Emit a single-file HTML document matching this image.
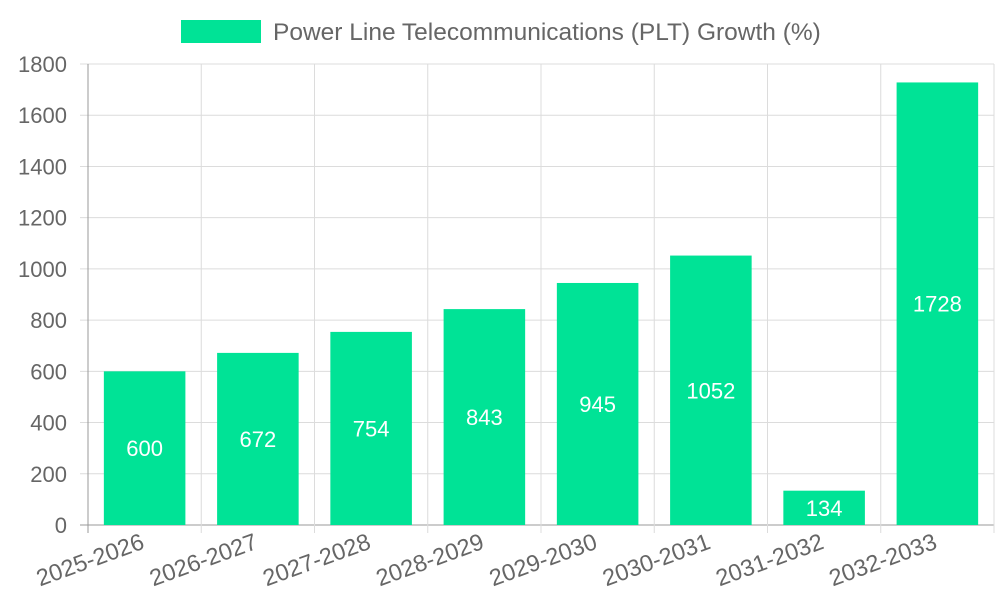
<!DOCTYPE html>
<html><head><meta charset="utf-8"><style>
body{margin:0;background:#fff;}
svg{font-family:"Liberation Sans",sans-serif;}
</style></head><body>
<svg id="chart" width="1000" height="600">
<g id="legend">
<rect x="181" y="20" width="80" height="23" fill="#00e396"></rect>
<text x="273" y="40" font-size="24.5" fill="#666">Power Line Telecommunications (PLT) Growth (%)</text>
</g>
<g id="grid"></g><g id="bars"></g><g id="axes"></g>
</svg>
<script>
const categories=["2025-2026","2026-2027","2027-2028","2028-2029","2029-2030","2030-2031","2031-2032","2032-2033"];
const values=[600,672,754,843,945,1052,134,1728];
const yTicks=[0,200,400,600,800,1000,1200,1400,1600,1800];
const NS="http://www.w3.org/2000/svg";
const L=88,R=994,T=64,B=525,yMax=1800;
const band=(R-L)/categories.length;
const y=v=>B-(v/yMax)*(B-T);
const xc=i=>L+band*(i+0.5);
function mk(tag,attrs,parent,text){const e=document.createElementNS(NS,tag);for(const k in attrs)e.setAttribute(k,attrs[k]);if(text!==undefined)e.textContent=text;parent.appendChild(e);return e;}
const grid=document.getElementById('grid'),bars=document.getElementById('bars'),axes=document.getElementById('axes');
yTicks.forEach(t=>{
 const l=mk('line',{x1:L-8,x2:R,y1:y(t),y2:y(t),stroke:t===0?'#999':'#dcdcdc','stroke-width':1},grid);
 
 
 const tx=mk('text',{x:L-21,y:y(t)+8,'text-anchor':'end','font-size':22,fill:'#666'},axes,String(t));
 
 
});
for(let i=0;i<=categories.length;i++){
 const x=L+band*i;
 const l=mk('line',{x1:x,x2:x,y1:T,y2:B+8,stroke:i===0?'#999':'#dcdcdc','stroke-width':1},grid);
 
 
}
const bw=band*0.72;
values.forEach((v,i)=>{
 const r=mk('rect',{x:xc(i)-bw/2,y:y(v),width:bw,height:B-y(v),fill:'#00e396'},bars);
 
 
 const t=mk('text',{x:xc(i),y:(y(v)+B)/2+8,'text-anchor':'middle','font-size':22,fill:'#fff'},bars,String(v));
 
 
 const lx=xc(i)+1,ly=B+23;
 const c=mk('text',{x:lx,y:ly,'text-anchor':'end','font-size':23.5,fill:'#666',transform:`rotate(-20 ${lx} ${ly})`},axes,categories[i]);
 
 
});
</script>
</body></html>
